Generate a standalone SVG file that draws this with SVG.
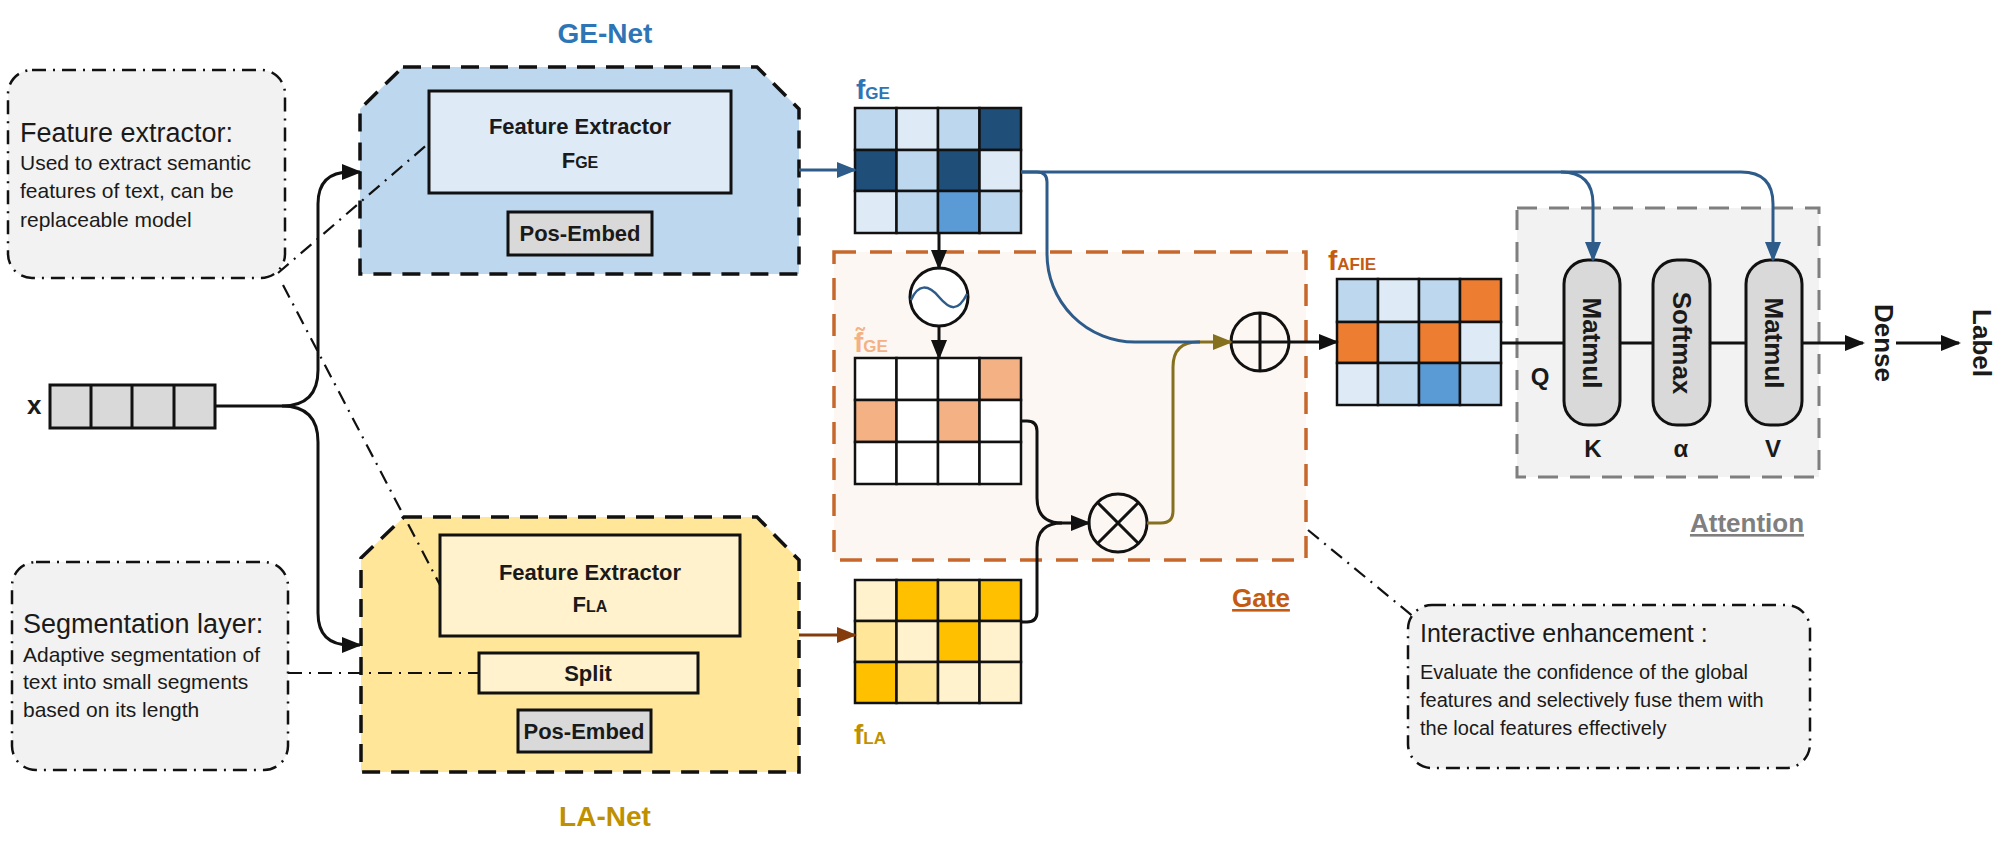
<svg xmlns="http://www.w3.org/2000/svg" width="2001" height="844" viewBox="0 0 2001 844">
<style>
text{font-family:"Liberation Sans",Arial,sans-serif;fill:#1a1a1a}
.b{font-weight:bold}
.call{fill:#F2F2F2;stroke:#111;stroke-width:2.5;stroke-dasharray:14 7 2 7}
.dd{fill:none;stroke:#111;stroke-width:2.2;stroke-dasharray:14 7 2 7}
.net{stroke:#111;stroke-width:3.5;stroke-dasharray:18 11}
.box{stroke:#111;stroke-width:3}
.cell{stroke:#111;stroke-width:2.5}
.k{fill:none;stroke:#111;stroke-width:3}
.bl{fill:none;stroke:#2E5C8A;stroke-width:3}
.ol{fill:none;stroke:#857020;stroke-width:3}
.br{fill:none;stroke:#843C0C;stroke-width:3}
.t1{font-size:27px}
.t2{font-size:21px}
.fe{font-size:22px;font-weight:bold;text-anchor:middle}
.ttl{font-size:28px;font-weight:bold;text-anchor:middle}
.rot{font-size:26px;font-weight:bold;text-anchor:middle;dominant-baseline:central}
.lab{font-size:24px;font-weight:bold;text-anchor:middle}
</style>
<defs>
<marker id="ak" viewBox="0 0 20 16" refX="18" refY="8" markerWidth="20" markerHeight="16" markerUnits="userSpaceOnUse" orient="auto"><path d="M0,0 L20,8 L0,16 z" fill="#111"/></marker>
<marker id="abl" viewBox="0 0 20 16" refX="18" refY="8" markerWidth="20" markerHeight="16" markerUnits="userSpaceOnUse" orient="auto"><path d="M0,0 L20,8 L0,16 z" fill="#2E5C8A"/></marker>
<marker id="abr" viewBox="0 0 20 16" refX="18" refY="8" markerWidth="20" markerHeight="16" markerUnits="userSpaceOnUse" orient="auto"><path d="M0,0 L20,8 L0,16 z" fill="#843C0C"/></marker>
<marker id="aol" viewBox="0 0 20 16" refX="18" refY="8" markerWidth="20" markerHeight="16" markerUnits="userSpaceOnUse" orient="auto"><path d="M0,0 L20,8 L0,16 z" fill="#857020"/></marker>
</defs>
<rect width="2001" height="844" fill="#fff"/>

<g id="gate">
<rect x="834" y="252" width="472" height="308" fill="#FDF7F3" stroke="#C6682C" stroke-width="3.5" stroke-dasharray="22 14"/>
<text x="1261" y="607" class="b" font-size="26" text-anchor="middle" style="fill:#C55A11" text-decoration="underline">Gate</text>
</g>

<g id="attention">
<rect x="1517" y="208" width="302" height="269" fill="#F2F2F2" stroke="#7F7F7F" stroke-width="3" stroke-dasharray="20 12"/>
<text x="1747" y="532" class="b" font-size="26" text-anchor="middle" style="fill:#7F7F7F" text-decoration="underline">Attention</text>
</g>

<g id="callout-feature">
<rect x="8" y="70" width="277" height="208" rx="24" class="call"/>
<text x="20" y="142" class="t1">Feature extractor:</text>
<text x="20" y="170" class="t2">Used to extract semantic</text>
<text x="20" y="198" class="t2">features of text, can be</text>
<text x="20" y="227" class="t2">replaceable model</text>
</g>

<g id="callout-seg">
<rect x="12" y="562" width="276" height="208" rx="24" class="call"/>
<text x="23" y="633" class="t1">Segmentation layer:</text>
<text x="23" y="662" class="t2">Adaptive segmentation of</text>
<text x="23" y="689" class="t2">text into small segments</text>
<text x="23" y="717" class="t2">based on its length</text>
</g>

<g id="callout-inter">
<rect x="1408" y="605" width="402" height="163" rx="24" class="call"/>
<text x="1420" y="642" font-size="25">Interactive enhancement :</text>
<text x="1420" y="679" font-size="20">Evaluate the confidence of the global</text>
<text x="1420" y="707" font-size="20">features and selectively fuse them with</text>
<text x="1420" y="735" font-size="20">the local features effectively</text>
</g>

<g id="input-x">
<text x="27" y="414" class="b" font-size="26">x</text>
<rect x="50" y="385" width="165" height="43" fill="#D9D9D9" class="box"/>
<path d="M91,385 V428 M132,385 V428 M174,385 V428" class="k"/>
</g>

<g id="ge-net">
<text x="605" y="43" class="ttl" style="fill:#2E75B6">GE-Net</text>
<polygon points="403,67 757,67 799,109 799,274 360,274 360,109" fill="#BDD7EE" class="net"/>
<rect x="429" y="91" width="302" height="102" fill="#DEEBF7" class="box"/>
<text x="580" y="134" class="fe">Feature Extractor</text>
<text x="580" y="168" class="fe">F<tspan font-size="16">GE</tspan></text>
<rect x="508" y="212" width="144" height="43" fill="#D9D9D9" class="box"/>
<text x="580" y="241" class="fe" font-size="21">Pos-Embed</text>
</g>

<g id="la-net">
<text x="605" y="826" class="ttl" style="fill:#BF9000">LA-Net</text>
<polygon points="404,517 757,517 799,560 799,772 361,772 361,558" fill="#FFE699" class="net"/>
<rect x="440" y="535" width="300" height="101" fill="#FFF2CC" class="box"/>
<text x="590" y="580" class="fe">Feature Extractor</text>
<text x="590" y="612" class="fe">F<tspan font-size="16">LA</tspan></text>
<rect x="479" y="653" width="219" height="40" fill="#FFF2CC" class="box"/>
<text x="588" y="681" class="fe" font-size="21">Split</text>
<rect x="518" y="710" width="133" height="42" fill="#D9D9D9" class="box"/>
<text x="584" y="739" class="fe" font-size="21">Pos-Embed</text>
</g>

<g id="f-ge">
<text x="856" y="99" class="b" font-size="28" style="fill:#2E75B6">f<tspan font-size="17">GE</tspan></text>
<rect x="855" y="108" width="41.5" height="42" fill="#BDD7EE" class="cell"/>
<rect x="896.5" y="108" width="41.5" height="42" fill="#DEEBF7" class="cell"/>
<rect x="938" y="108" width="41.5" height="42" fill="#BDD7EE" class="cell"/>
<rect x="979.5" y="108" width="41.5" height="42" fill="#1F4E79" class="cell"/>
<rect x="855" y="150" width="41.5" height="41" fill="#1F4E79" class="cell"/>
<rect x="896.5" y="150" width="41.5" height="41" fill="#BDD7EE" class="cell"/>
<rect x="938" y="150" width="41.5" height="41" fill="#1F4E79" class="cell"/>
<rect x="979.5" y="150" width="41.5" height="41" fill="#DEEBF7" class="cell"/>
<rect x="855" y="191" width="41.5" height="42" fill="#DEEBF7" class="cell"/>
<rect x="896.5" y="191" width="41.5" height="42" fill="#BDD7EE" class="cell"/>
<rect x="938" y="191" width="41.5" height="42" fill="#5B9BD5" class="cell"/>
<rect x="979.5" y="191" width="41.5" height="42" fill="#BDD7EE" class="cell"/>
</g>

<g id="sine">
<circle cx="939" cy="297" r="29" fill="#fff" stroke="#111" stroke-width="3"/>
<path d="M911,300 C918,284 928,284 939,297 S958,312 967,294" fill="none" stroke="#2E5C8A" stroke-width="2.5"/>
</g>

<g id="f-ge-tilde">
<text x="854" y="352" class="b" font-size="28" style="fill:#F4B183">f&#771;<tspan font-size="17">GE</tspan></text>
<rect x="855" y="358" width="41.5" height="42" fill="#fff" class="cell"/>
<rect x="896.5" y="358" width="41.5" height="42" fill="#fff" class="cell"/>
<rect x="938" y="358" width="41.5" height="42" fill="#fff" class="cell"/>
<rect x="979.5" y="358" width="41.5" height="42" fill="#F4B183" class="cell"/>
<rect x="855" y="400" width="41.5" height="42" fill="#F4B183" class="cell"/>
<rect x="896.5" y="400" width="41.5" height="42" fill="#fff" class="cell"/>
<rect x="938" y="400" width="41.5" height="42" fill="#F4B183" class="cell"/>
<rect x="979.5" y="400" width="41.5" height="42" fill="#fff" class="cell"/>
<rect x="855" y="442" width="41.5" height="42" fill="#fff" class="cell"/>
<rect x="896.5" y="442" width="41.5" height="42" fill="#fff" class="cell"/>
<rect x="938" y="442" width="41.5" height="42" fill="#fff" class="cell"/>
<rect x="979.5" y="442" width="41.5" height="42" fill="#fff" class="cell"/>
</g>

<g id="f-la">
<text x="854" y="744" class="b" font-size="28" style="fill:#BF9000">f<tspan font-size="17">LA</tspan></text>
<rect x="855" y="580" width="41.5" height="41" fill="#FFF2CC" class="cell"/>
<rect x="896.5" y="580" width="41.5" height="41" fill="#FFC000" class="cell"/>
<rect x="938" y="580" width="41.5" height="41" fill="#FFE699" class="cell"/>
<rect x="979.5" y="580" width="41.5" height="41" fill="#FFC000" class="cell"/>
<rect x="855" y="621" width="41.5" height="41" fill="#FFE699" class="cell"/>
<rect x="896.5" y="621" width="41.5" height="41" fill="#FFF2CC" class="cell"/>
<rect x="938" y="621" width="41.5" height="41" fill="#FFC000" class="cell"/>
<rect x="979.5" y="621" width="41.5" height="41" fill="#FFF2CC" class="cell"/>
<rect x="855" y="662" width="41.5" height="41" fill="#FFC000" class="cell"/>
<rect x="896.5" y="662" width="41.5" height="41" fill="#FFE699" class="cell"/>
<rect x="938" y="662" width="41.5" height="41" fill="#FFF2CC" class="cell"/>
<rect x="979.5" y="662" width="41.5" height="41" fill="#FFF2CC" class="cell"/>
</g>

<g id="otimes">
<circle cx="1118" cy="523" r="29" fill="none" stroke="#111" stroke-width="3"/>
<path d="M1097.5,502.5 L1138.5,543.5 M1138.5,502.5 L1097.5,543.5" class="k"/>
</g>

<g id="oplus">
<circle cx="1260" cy="342" r="29" fill="none" stroke="#111" stroke-width="3"/>
<path d="M1231,342 H1289 M1260,313 V371" class="k"/>
</g>

<g id="f-afie">
<text x="1328" y="270" class="b" font-size="28" style="fill:#C55A11">f<tspan font-size="17">AFIE</tspan></text>
<rect x="1337" y="279" width="41" height="43" fill="#BDD7EE" class="cell"/>
<rect x="1378" y="279" width="41" height="43" fill="#DEEBF7" class="cell"/>
<rect x="1419" y="279" width="41" height="43" fill="#BDD7EE" class="cell"/>
<rect x="1460" y="279" width="41" height="43" fill="#ED7D31" class="cell"/>
<rect x="1337" y="322" width="41" height="41" fill="#ED7D31" class="cell"/>
<rect x="1378" y="322" width="41" height="41" fill="#BDD7EE" class="cell"/>
<rect x="1419" y="322" width="41" height="41" fill="#ED7D31" class="cell"/>
<rect x="1460" y="322" width="41" height="41" fill="#DEEBF7" class="cell"/>
<rect x="1337" y="363" width="41" height="42" fill="#DEEBF7" class="cell"/>
<rect x="1378" y="363" width="41" height="42" fill="#BDD7EE" class="cell"/>
<rect x="1419" y="363" width="41" height="42" fill="#5B9BD5" class="cell"/>
<rect x="1460" y="363" width="41" height="42" fill="#BDD7EE" class="cell"/>
</g>

<g id="matmul-k">
<rect x="1564" y="260" width="56" height="165" rx="24" fill="#D9D9D9" class="box"/>
<text transform="translate(1592,343) rotate(90)" class="rot">Matmul</text>
</g>
<g id="softmax">
<rect x="1653" y="260" width="57" height="165" rx="24" fill="#D9D9D9" class="box"/>
<text transform="translate(1681.5,343) rotate(90)" class="rot">Softmax</text>
</g>
<g id="matmul-v">
<rect x="1746" y="260" width="56" height="165" rx="24" fill="#D9D9D9" class="box"/>
<text transform="translate(1774,343) rotate(90)" class="rot">Matmul</text>
</g>
<g id="qkv-labels">
<text x="1540" y="385" class="lab">Q</text>
<text x="1593" y="457" class="lab">K</text>
<text x="1681" y="457" class="lab">α</text>
<text x="1773" y="457" class="lab">V</text>
</g>
<g id="dense">
<text transform="translate(1884,343) rotate(90)" class="rot" font-size="25">Dense</text>
</g>
<g id="label">
<text transform="translate(1982,343) rotate(90)" class="rot" font-size="25">Label</text>
</g>

<g id="connectors">
<path d="M215,406 H282 Q318,406 318,370 V204 Q318,172 350,172 H360" class="k" marker-end="url(#ak)"/>
<path d="M282,406 Q318,406 318,442 V613 Q318,645 350,645 H360" class="k" marker-end="url(#ak)"/>
<path d="M799,170 H855" class="bl" marker-end="url(#abl)"/>
<path d="M799,635 H855" class="br" marker-end="url(#abr)"/>
<path d="M939,233 V268" class="k" marker-end="url(#ak)"/>
<path d="M939,326 V358" class="k" marker-end="url(#ak)"/>
<path d="M1021,421 H1027 Q1037,421 1037,431 V498 Q1037,523 1062,523 H1089" class="k" marker-end="url(#ak)"/>
<path d="M1021,622 H1027 Q1037,622 1037,612 V548 Q1037,523 1062,523" class="k"/>
<path d="M1147,523 H1161 Q1173,523 1173,511 V367 Q1173,342 1198,342 H1231" class="ol" marker-end="url(#aol)"/>
<path d="M1021,172 H1037 Q1047,172 1047,182 V254 A88,88 0 0 0 1135,342 H1200" class="bl"/>
<path d="M1021,172 H1561 Q1593,172 1593,204 V260" class="bl" marker-end="url(#abl)"/>
<path d="M1561,172 H1741 Q1773,172 1773,204 V260" class="bl" marker-end="url(#abl)"/>
<path d="M1289,342 H1337" class="k" marker-end="url(#ak)"/>
<path d="M1501,343 H1564 M1620,343 H1653 M1710,343 H1746" class="k"/>
<path d="M1802,343 H1863" class="k" marker-end="url(#ak)"/>
<path d="M1896,343 H1959" class="k" marker-end="url(#ak)"/>
<path d="M278,273 L429,143" class="dd"/>
<path d="M283,285 L440,585" class="dd"/>
<path d="M288,673 L479,673" class="dd"/>
<path d="M1308,530 L1415,618" class="dd"/>
</g>
</svg>
